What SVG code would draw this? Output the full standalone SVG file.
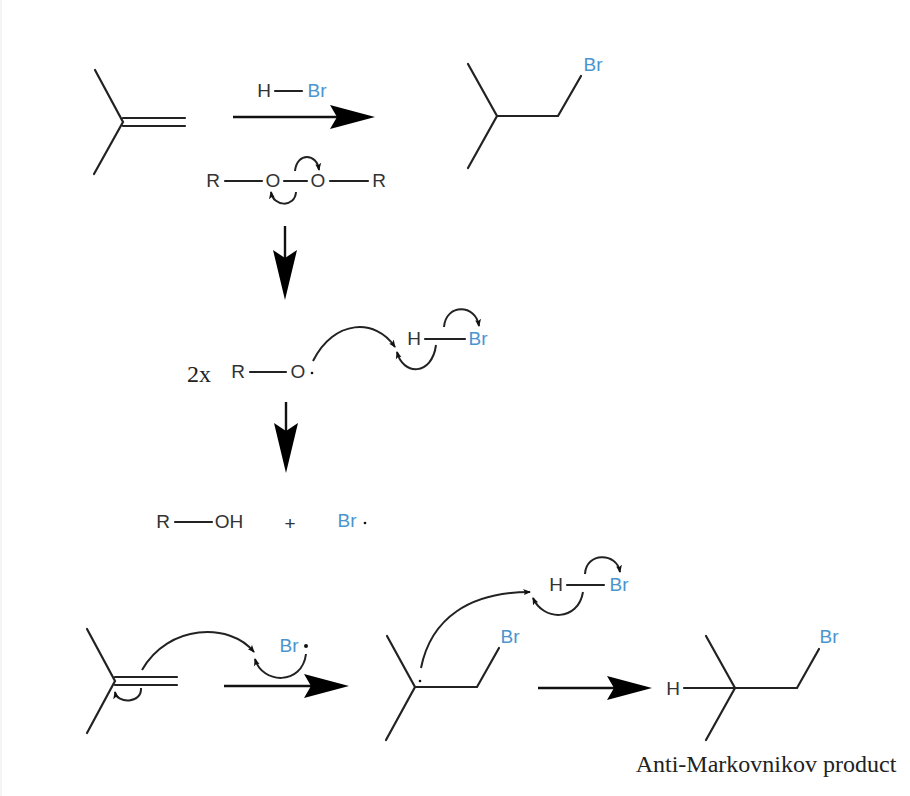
<svg xmlns="http://www.w3.org/2000/svg" width="910" height="796" viewBox="0 0 910 796">
<defs>
<marker id="tip" markerUnits="userSpaceOnUse" markerWidth="10" markerHeight="10" refX="7" refY="4" orient="auto"><path d="M0 1L8 4L1 7L2 4Z" fill="#111"/></marker>
<path id="bighead" d="M-45 -12L0 0L-45 12L-38 0Z"/>
</defs>
<style>
.b{stroke:#222;stroke-width:2.2;fill:none;stroke-linecap:round}
.c{stroke:#222;stroke-width:2;fill:none;marker-end:url(#tip)}
.a{stroke:#111;stroke-width:2.4;fill:none}
.h{fill:#000}
text{font-family:"Liberation Sans",Arial,sans-serif;font-size:19px;fill:#333;text-anchor:middle}
.br{fill:#4a94cf}
.s{font-family:"Liberation Serif","Times New Roman",serif;fill:#222;font-size:24px}
.d{fill:#111}
</style>
<rect width="910" height="796" fill="#fff"/>
<rect x="0" y="0" width="2" height="796" fill="#f4f4f4"/>
<g id="connectors">
<path class="a" d="M233 117H340"/><use href="#bighead" x="375" y="117" class="h"/>
<path class="a" d="M285 226V265"/><path class="h" d="M285 300L273 250L285 258L297 250Z"/>
<path class="a" d="M286 402V440"/><path class="h" d="M286 473L274 423L286 431L298 423Z"/>
<path class="a" d="M224 686H315"/><use href="#bighead" x="349" y="686" class="h"/>
<path class="a" d="M538 688H620"/><use href="#bighead" x="652" y="688" class="h"/>
</g>
<g id="isobutene-1"><path class="b" d="M95 70L123 122L94 174M123 118H185M123 126H185"/></g>
<g id="hbr-1"><text x="264" y="97">H</text><path class="b" d="M275 91H302"/><text class="br" x="317" y="97">Br</text></g>
<g id="bromide-product-1"><path class="b" d="M468 64L497 116L468 168M497 116H558L581 76"/><text class="br" x="593" y="71">Br</text></g>
<g id="peroxide"><text x="213" y="187">R</text><path class="b" d="M225 181H262"/><text x="273" y="187">O</text><path class="b" d="M284 181H307"/><text x="318" y="187">O</text><path class="b" d="M330 181H368"/><text x="379" y="187">R</text>
<path class="c" d="M295 171C297 152 317 153 319 170"/><path class="c" d="M296 192C295 208 273 207 271 192"/></g>
<g id="alkoxy-radical"><text class="s" x="199" y="382">2x</text><text x="238" y="378">R</text><path class="b" d="M250 372H286"/><text x="298" y="378">O</text><circle class="d" cx="312" cy="373" r="1.3"/></g>
<g id="hbr-2"><text x="414" y="345">H</text><path class="b" d="M425 339H465"/><text class="br" x="478" y="345">Br</text>
<path class="c" d="M444 327C446 303 476 304 479 326"/><path class="c" d="M436 345C432 376 403 376 397 352"/><path class="c" d="M313 361C334 319 376 318 395 347"/></g>
<g id="products"><text x="163" y="528">R</text><path class="b" d="M175 522H212"/><text x="229" y="528">OH</text><text x="290" y="530">+</text><text class="br" x="347" y="527">Br</text><circle class="d" cx="365" cy="523" r="1.3"/></g>
<g id="isobutene-2"><path class="b" d="M87 629L115 681L87 733M115 677H177M115 685H177"/>
<path class="c" d="M142 670C168 624 230 622 254 652"/><path class="c" d="M141 688C142 704 117 704 115 692"/></g>
<g id="br-radical"><text class="br" x="289" y="652">Br</text><circle class="d" cx="306" cy="646" r="2"/><path class="c" d="M306 654C302 686 262 684 255 659"/></g>
<g id="carbon-radical"><path class="b" d="M387 636L415 687L386 740M415 687H477L499 648"/><text class="br" x="510" y="643">Br</text><circle class="d" cx="420" cy="681" r="1.3"/><path class="c" d="M421 668C431 618 470 592 530 592"/></g>
<g id="hbr-3"><text x="556" y="591">H</text><path class="b" d="M567 585H604"/><text class="br" x="619" y="591">Br</text>
<path class="c" d="M585 574C586 552 617 552 620 572"/><path class="c" d="M583 592C578 622 543 621 533 598"/></g>
<g id="final-product"><text x="673" y="695">H</text><path class="b" d="M684 688H735M706 636L735 688L706 740M735 688H797L819 649"/><text class="br" x="829" y="643">Br</text></g>
<g id="caption"><text class="s" x="766" y="772">Anti-Markovnikov product</text></g>
</svg>
